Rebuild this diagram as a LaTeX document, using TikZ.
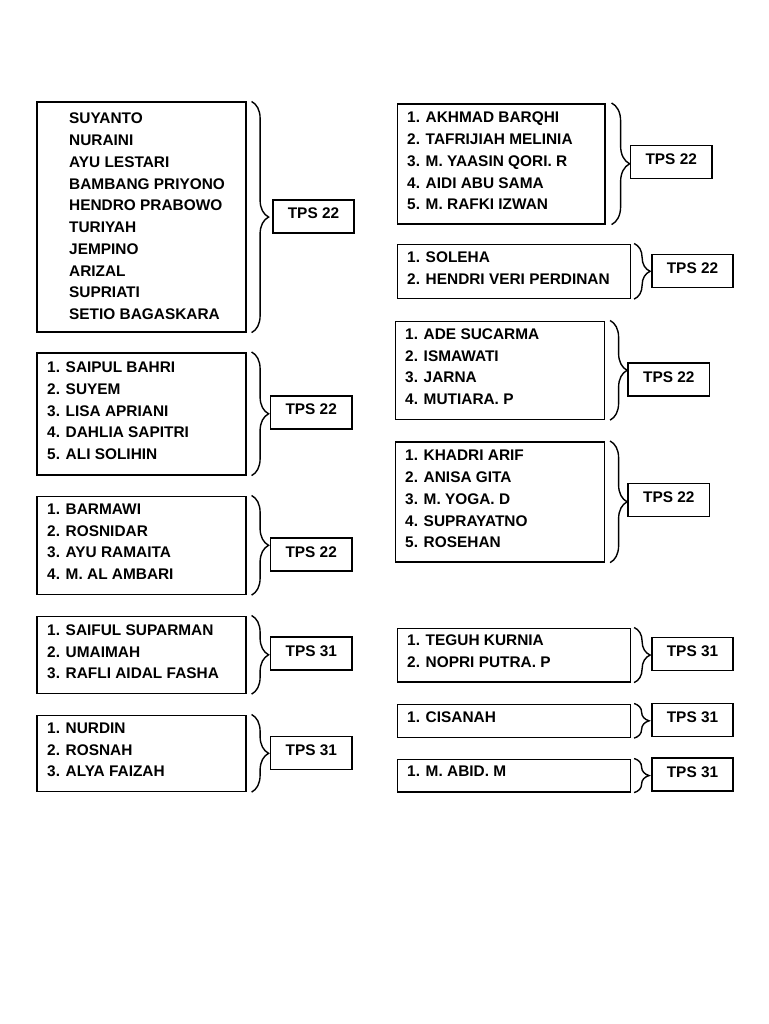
\documentclass[tikz,border=0pt]{standalone}
\usepackage{fontspec}
\setmainfont{Liberation Sans}
\usetikzlibrary{decorations.pathreplacing}
\tikzset{
  listbox/.style={draw, line width=1.6pt, anchor=north west, inner sep=0pt},
  names/.style={anchor=north west, align=left, inner sep=0pt, font=\bfseries\fontsize{15.4}{21.75}\selectfont},
  tpsbox/.style={draw, line width=1.6pt, inner sep=0pt, minimum width=81.5pt, minimum height=33pt, text depth=6pt, font=\bfseries\fontsize{15.4}{18}\selectfont},
  brc/.style={decorate, decoration={brace, amplitude=#1}, line width=1.4pt}
}
\begin{document}
\begin{tikzpicture}[x=1pt, y=-1pt]
\useasboundingbox (0,0) rectangle (768,1024);
\fill[white] (0,0) rectangle (768,1024);
% ---------- left column ----------
\node[listbox, minimum width=209pt, minimum height=229.5pt] (A) at (36,101.5) {};
\node[names] (Atext) at (69,113) {SUYANTO\\NURAINI\\AYU LESTARI\\BAMBANG PRIYONO\\HENDRO PRABOWO\\TURIYAH\\JEMPINO\\ARIZAL\\SUPRIATI\\SETIO BAGASKARA};
\node[tpsbox] (tA) at (313.5,216.3) {TPS 22};
\draw[brc=17] ([xshift=5pt]A.north east) -- ([xshift=5pt]A.south east);

\node[listbox, minimum width=209pt, minimum height=122pt] (B) at (36,352) {};
\node[names] (Btext) at (47,361.7) {1. SAIPUL BAHRI\\2. SUYEM\\3. LISA APRIANI\\4. DAHLIA SAPITRI\\5. ALI SOLIHIN};
\node[tpsbox] (tB) at (311.2,412.3) {TPS 22};
\draw[brc=17] ([xshift=5pt]B.north east) -- ([xshift=5pt]B.south east);

\node[listbox, minimum width=209pt, minimum height=98pt] (C) at (36,495.5) {};
\node[names] (Ctext) at (47,503.5) {1. BARMAWI\\2. ROSNIDAR\\3. AYU RAMAITA\\4. M. AL AMBARI};
\node[tpsbox] (tC) at (311.2,554.7) {TPS 22};
\draw[brc=17] ([xshift=5pt]C.north east) -- ([xshift=5pt]C.south east);

\node[listbox, minimum width=209pt, minimum height=77pt] (D) at (36,615.5) {};
\node[names] (Dtext) at (47,624.5) {1. SAIFUL SUPARMAN\\2. UMAIMAH\\3. RAFLI AIDAL FASHA};
\node[tpsbox] (tD) at (311.3,653.7) {TPS 31};
\draw[brc=17] ([xshift=5pt]D.north east) -- ([xshift=5pt]D.south east);

\node[listbox, minimum width=209pt, minimum height=76pt] (E) at (36,714.5) {};
\node[names] (Etext) at (47,722.5) {1. NURDIN\\2. ROSNAH\\3. ALYA FAIZAH};
\node[tpsbox] (tE) at (311.3,752.8) {TPS 31};
\draw[brc=17] ([xshift=5pt]E.north east) -- ([xshift=5pt]E.south east);

% ---------- right column ----------
\node[listbox, minimum width=207.5pt, minimum height=120pt] (F) at (396.5,103) {};
\node[names] (Ftext) at (407,112) {1. AKHMAD BARQHI\\2. TAFRIJIAH MELINIA\\3. M. YAASIN QORI. R\\4. AIDI ABU SAMA\\5. M. RAFKI IZWAN};
\node[tpsbox] (tF) at (671.2,162.2) {TPS 22};
\draw[brc=18] ([xshift=6pt]F.north east) -- ([xshift=6pt]F.south east);

\node[listbox, minimum width=233pt, minimum height=54pt] (G) at (396.5,243.5) {};
\node[names] (Gtext) at (407,252) {1. SOLEHA\\2. HENDRI VERI PERDINAN};
\node[tpsbox] (tG) at (692.5,270.8) {TPS 22};
\draw[brc=16] ([xshift=3pt]G.north east) -- ([xshift=3pt]G.south east);

\node[listbox, minimum width=209pt, minimum height=98pt] (H) at (394.5,320.5) {};
\node[names] (Htext) at (405,328.5) {1. ADE SUCARMA\\2. ISMAWATI\\3. JARNA\\4. MUTIARA. P};
\node[tpsbox] (tH) at (668.8,379.7) {TPS 22};
\draw[brc=17] ([xshift=5pt]H.north east) -- ([xshift=5pt]H.south east);

\node[listbox, minimum width=209pt, minimum height=120pt] (I) at (394.5,441) {};
\node[names] (Itext) at (405,450) {1. KHADRI ARIF\\2. ANISA GITA\\3. M. YOGA. D\\4. SUPRAYATNO\\5. ROSEHAN};
\node[tpsbox] (tI) at (668.8,500) {TPS 22};
\draw[brc=17] ([xshift=5pt]I.north east) -- ([xshift=5pt]I.south east);

\node[listbox, minimum width=233pt, minimum height=53.5pt] (J) at (396.5,627.5) {};
\node[names] (Jtext) at (407,635) {1. TEGUH KURNIA\\2. NOPRI PUTRA. P};
\node[tpsbox] (tJ) at (692.5,654) {TPS 31};
\draw[brc=16] ([xshift=3pt]J.north east) -- ([xshift=3pt]J.south east);

\node[listbox, minimum width=233pt, minimum height=33pt] (K) at (396.5,703.5) {};
\node[names] (Ktext) at (407,712) {1. CISANAH};
\node[tpsbox] (tK) at (692.5,720) {TPS 31};
\draw[brc=15] ([xshift=3pt]K.north east) -- ([xshift=3pt]K.south east);

\node[listbox, minimum width=233pt, minimum height=32.5pt] (L) at (396.5,758.5) {};
\node[names] (Ltext) at (407,766) {1. M. ABID. M};
\node[tpsbox] (tL) at (692.5,774.7) {TPS 31};
\draw[brc=15] ([xshift=3pt]L.north east) -- ([xshift=3pt]L.south east);
\end{tikzpicture}
\end{document}
